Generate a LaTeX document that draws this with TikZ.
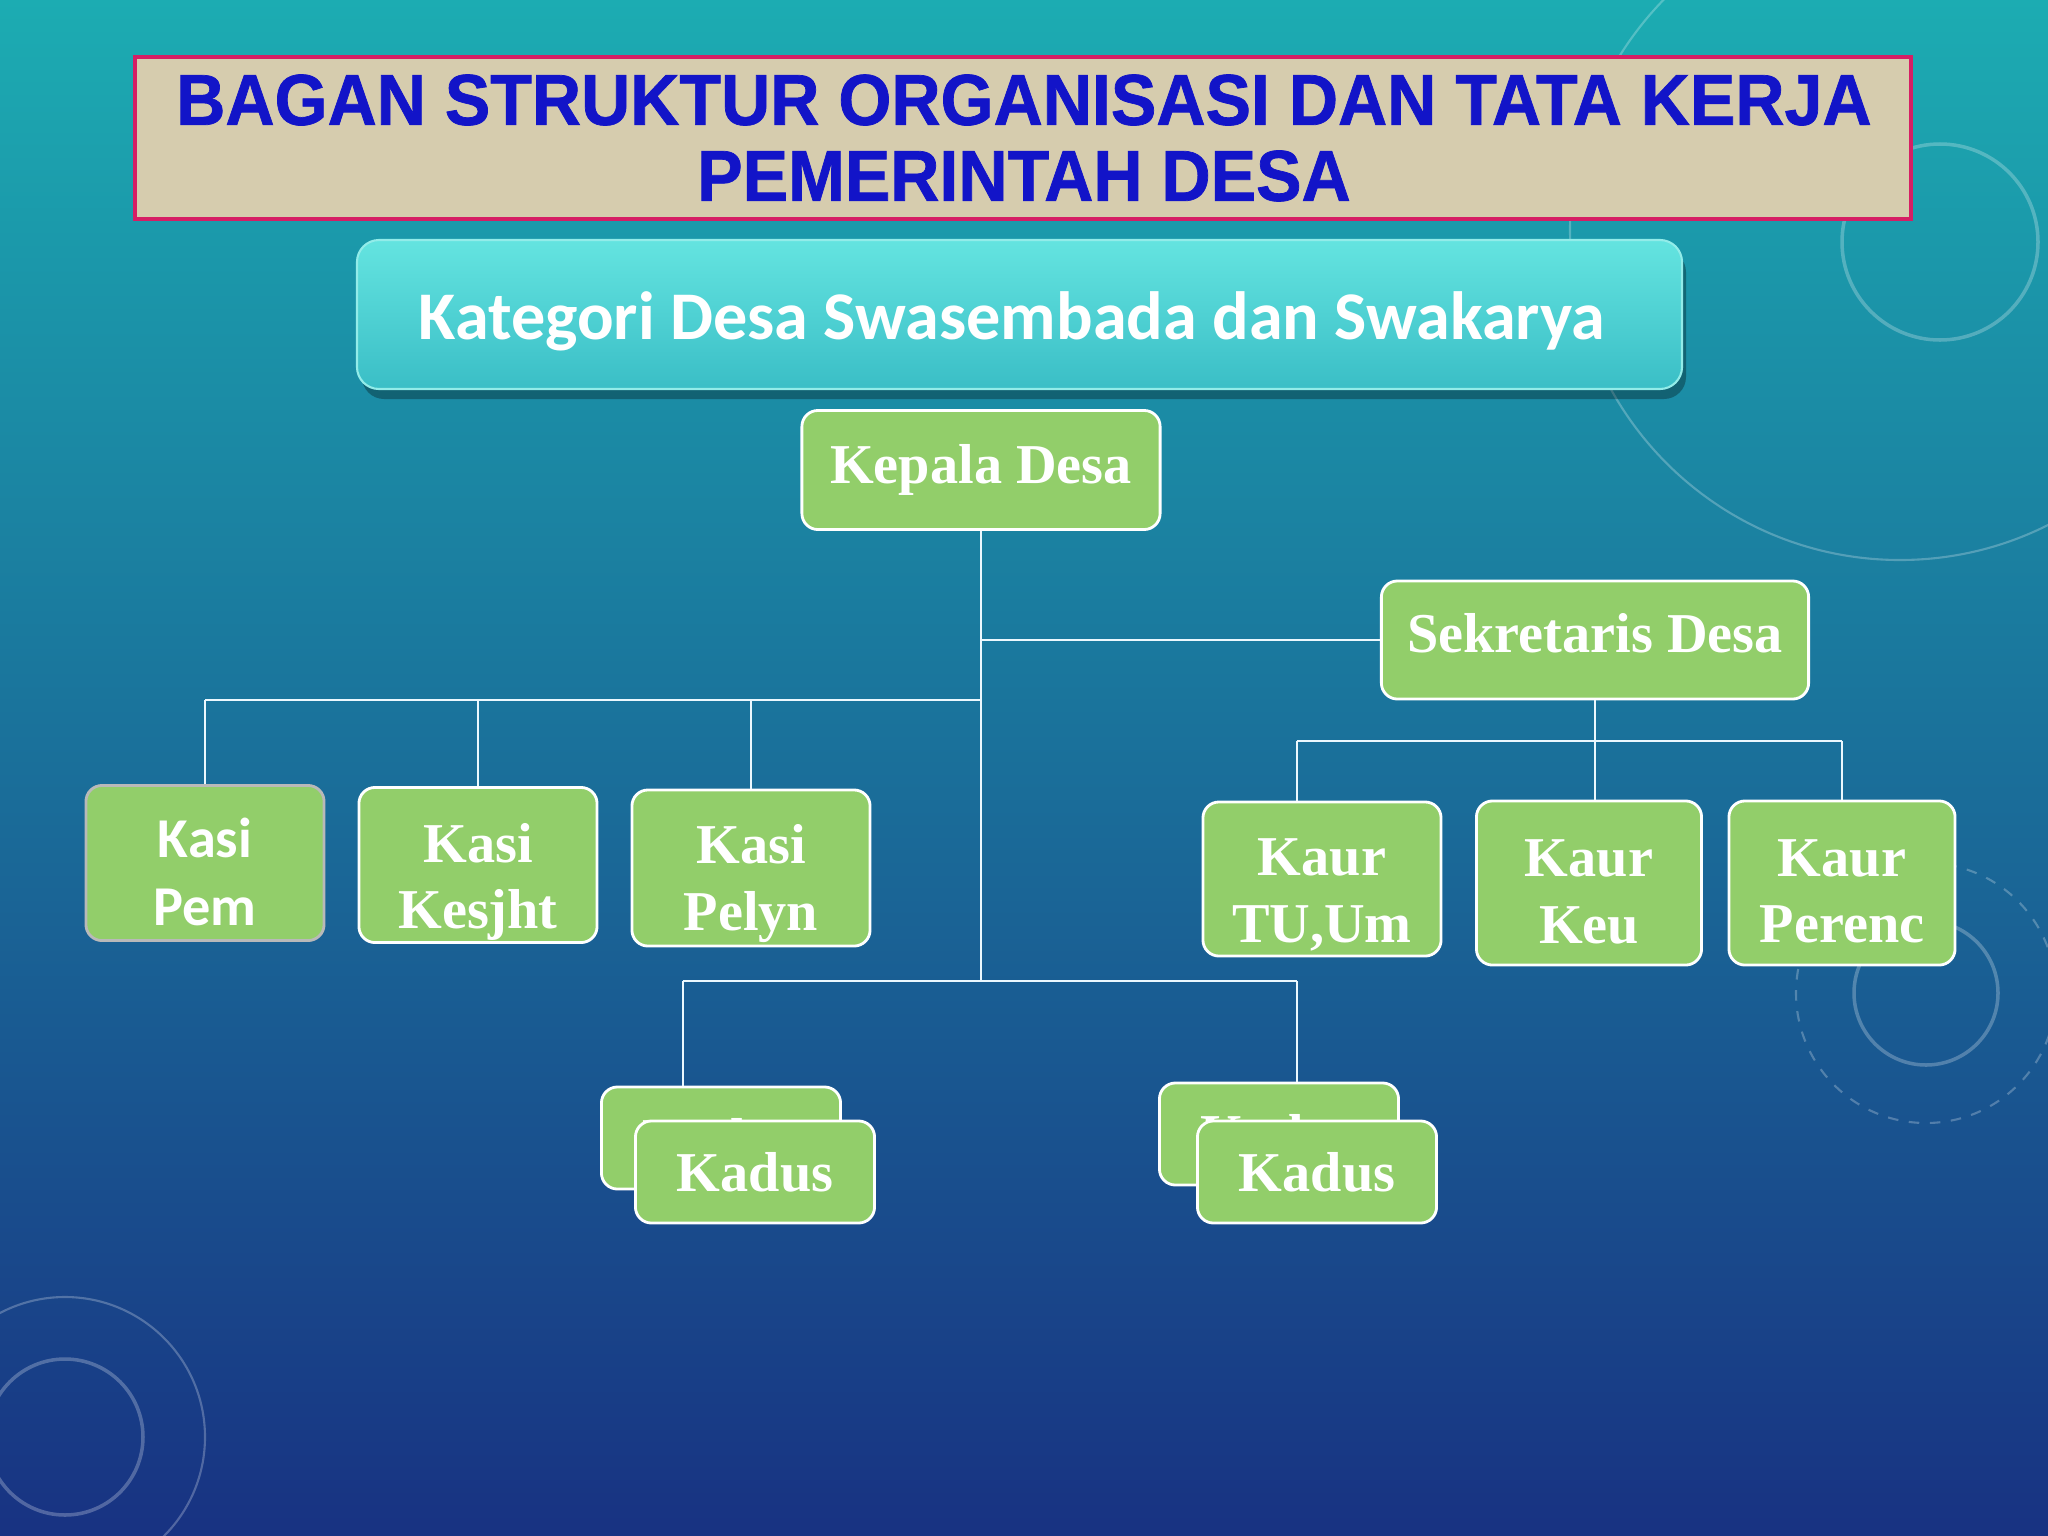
\documentclass[tikz,border=0pt]{standalone}
\usepackage{fontspec}
\setmainfont{Liberation Serif}
\newfontfamily\calibri{Carlito}
\newfontfamily\titlefont[FakeStretch=0.945,FakeBold=1]{Liberation Sans}
\definecolor{bgtop}{RGB}{28,172,178}
\definecolor{bgmid}{RGB}{22,116,160}
\definecolor{bgbot}{RGB}{24,50,130}
\definecolor{boxgreen}{RGB}{146,206,106}
\definecolor{titlebeige}{RGB}{214,204,174}
\definecolor{titleblue}{RGB}{18,20,200}
\definecolor{titlerim}{RGB}{214,30,100}
\definecolor{bandtop}{RGB}{100,228,224}
\definecolor{bandbot}{RGB}{58,190,198}
% invisible strut that lowers two-line labels inside their boxes
\newcommand\padtop[1]{\rule{0pt}{#1}}
\tikzset{
  unit/.style={draw=white, line width=0.8pt, fill=boxgreen, rounded corners=0.16cm,
    text=white, align=center, inner sep=0pt, font=\fontsize{16}{19}\selectfont\bfseries},
  link/.style={draw=white!92!cyan, line width=0.6pt},
  deco/.style={draw=white, opacity=0.25, line width=1pt}
}
\begin{document}
\begin{tikzpicture}[x=0.01cm, y=-0.01cm]

        % background
        \shade[top color=bgtop, middle color=bgmid, bottom color=bgbot] (0,0) rectangle (2048,1536);
        \useasboundingbox (0,0) rectangle (2048,1536);
        \draw[deco] (1940,242) circle (98);
        \draw[deco, line width=0.6pt] (1900,230) circle (330);
        \draw[deco] (1926,993) circle (72);
        \draw[deco, dashed, line width=0.6pt] (1926,993) circle (130);
        \draw[deco] (65,1437) circle (78);
        \draw[deco, line width=0.6pt] (65,1437) circle (140);

        % title
        \node[draw=titlerim, line width=1.2pt, fill=titlebeige, minimum width=17.75cm,
              minimum height=1.62cm, inner sep=0pt] (title) at (1023,138) {};
        \node[text=titleblue, align=center, font=\titlefont\fontsize{20.5}{21.6}\selectfont\bfseries]
              (titletext) at (1024,138) {BAGAN STRUKTUR ORGANISASI DAN TATA KERJA\\PEMERINTAH DESA};

        % category band
        \fill[black, opacity=0.3, rounded corners=0.22cm] (362,250) rectangle (1686,399);
        \shade[top color=bandtop, bottom color=bandbot, rounded corners=0.22cm, draw=bandtop!70!white, line width=0.6pt]
              (357,240) rectangle (1682,389);
        \node[text=white, font=\calibri\fontsize{19.4}{22}\selectfont\bfseries] (band) at (1012,321)
              {Kategori Desa Swasembada dan Swakarya};

        \begin{scope}[every node/.style={unit}]
          \node[minimum width=3.58cm, minimum height=1.19cm] (kepala) at (981,470) {Kepala Desa};
          \node[minimum width=4.27cm, minimum height=1.18cm] (sekdes) at (1595,640)
                {\rule[-4pt]{0pt}{4pt}Sekretaris Desa};

          \node[minimum width=2.38cm, minimum height=1.55cm, draw=gray!55,
                font=\calibri\fontsize{16}{19.5}\selectfont\bfseries] (kasipem) at (205,863) {\padtop{16.3pt}Kasi\\Pem};
          \node[minimum width=2.38cm, minimum height=1.55cm] (kasikes) at (478,865) {\padtop{20.7pt}Kasi\\Kesjht};
          \node[minimum width=2.38cm, minimum height=1.56cm] (kasipel) at (751,868) {\padtop{20.1pt}Kasi\\Pelyn};

          \node[minimum width=2.38cm, minimum height=1.54cm] (kaurtu)  at (1322,879) {\padtop{19.7pt}Kaur\\TU,Um};
          \node[minimum width=2.25cm, minimum height=1.64cm] (kaurkeu) at (1589,883) {\padtop{15.7pt}Kaur\\Keu};
          \node[minimum width=2.26cm, minimum height=1.64cm] (kaurper) at (1842,883) {\padtop{15.2pt}Kaur\\Perenc};

          \node[minimum width=2.39cm, minimum height=1.02cm] (kadusAb) at (721,1138) {Kadus};
          \node[minimum width=2.39cm, minimum height=1.02cm] (kadusAf) at (755,1172) {Kadus};
          \node[minimum width=2.39cm, minimum height=1.02cm] (kadusBb) at (1279,1134) {Kadus};
          \node[minimum width=2.39cm, minimum height=1.02cm] (kadusBf) at (1317,1172) {Kadus};
        \end{scope}

        \coordinate (kasibus) at (981,700);
        \coordinate (kadusbus) at (981,981);
        \coordinate (kadusL) at (683,981);
        \coordinate (kadusR) at (1297,981);
        \coordinate (kaurL) at (1297,741);
        \coordinate (kaurR) at (1842,741);

        \begin{scope}[every path/.style={link}]
          \path (kepala.south) edge (kadusbus);
          \path (kepala.south |- sekdes.west) edge (sekdes.west);
          \path (kasibus) edge (kasipem.north |- kasibus);
          \path (kasipem.north |- kasibus) edge (kasipem.north);
          \path (kasikes.north |- kasibus) edge (kasikes.north);
          \path (kasipel.north |- kasibus) edge (kasipel.north);
          \path (kadusL) edge (kadusR);
          \path (kadusL) edge (kadusL |- kadusAb.north);
          \path (kadusR) edge (kadusR |- kadusBb.north);
          \path (sekdes.south) edge (sekdes.south |- kaurkeu.north);
          \path (kaurL) edge (kaurR);
          \path (kaurL) edge (kaurL |- kaurtu.north);
          \path (kaurR) edge (kaurper.north);
        \end{scope}

      \end{tikzpicture}
\end{document}
